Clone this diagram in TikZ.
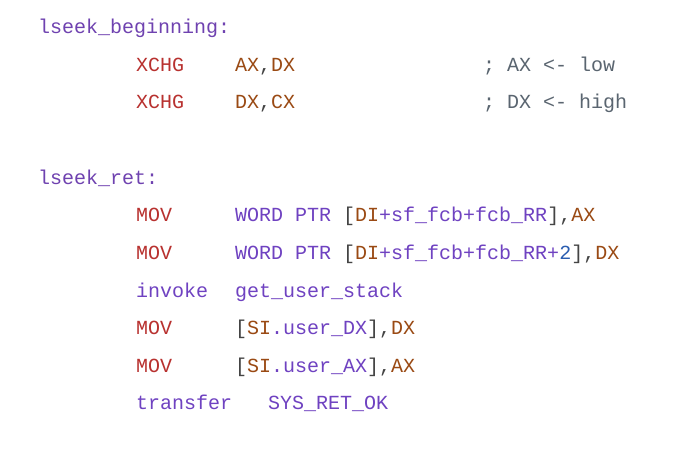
\documentclass[tikz,border=0pt]{standalone}
\usepackage{fontspec}
\setmonofont{Liberation Mono}
\definecolor{lblpur}{HTML}{6F42B0}
\definecolor{oppur}{HTML}{6F42C1}
\definecolor{insred}{HTML}{B8312F}
\definecolor{regbrn}{HTML}{9A4A14}
\definecolor{pungray}{HTML}{444444}
\definecolor{cmtgray}{HTML}{5A6570}
\definecolor{numblue}{HTML}{2A5DB0}
\tikzset{
  code/.style={anchor=base west, inner sep=0pt, font=\ttfamily\fontsize{20}{24}\selectfont},
  lbl/.style={code, text=lblpur},
  ins/.style={code, text=insred},
  cmt/.style={code, text=cmtgray}
}
\newcommand{\rg}[1]{\textcolor{regbrn}{#1}}
\newcommand{\pu}[1]{\textcolor{oppur}{#1}}
\newcommand{\pn}[1]{\textcolor{pungray}{#1}}
\begin{document}
\begin{tikzpicture}[x=1pt,y=-1pt]
    \useasboundingbox[fill=white] (0,0) rectangle (700,465);
    % first label
    \node[lbl] (lbeg) at (38,34) {lseek\_beginning:};
    \node[ins] (x1) at (136,72) {XCHG};
    \node[code] (o1) at (235,72) {\rg{AX}\pn{,}\rg{DX}};
    \node[cmt] (c1) at (483,72) {; AX <- low};
    \node[ins] (x2) at (136,109) {XCHG};
    \node[code] (o2) at (235,109) {\rg{DX}\pn{,}\rg{CX}};
    \node[cmt] (c2) at (483,109) {; DX <- high};

    % second label
    \node[lbl] (lret) at (38,184) {lseek\_ret:};
    \node[ins] (m1) at (136,221) {MOV};
    \node[code] (p1) at (235,221) {\pu{WORD PTR }\pn{[}\rg{DI}\pu{+sf\_fcb+fcb\_RR}\pn{],}\rg{AX}};
    \node[ins] (m2) at (136,259) {MOV};
    \node[code] (p2) at (235,259) {\pu{WORD PTR }\pn{[}\rg{DI}\pu{+sf\_fcb+fcb\_RR+}\textcolor{numblue}{2}\pn{],}\rg{DX}};
    \node[code, text=oppur] (inv) at (136,297) {invoke};
    \node[code, text=oppur] (gus) at (235,297) {get\_user\_stack};
    \node[ins] (m3) at (136,334) {MOV};
    \node[code] (p3) at (235,334) {\pn{[}\rg{SI}\pu{.user\_DX}\pn{],}\rg{DX}};
    \node[ins] (m4) at (136,372) {MOV};
    \node[code] (p4) at (235,372) {\pn{[}\rg{SI}\pu{.user\_AX}\pn{],}\rg{AX}};
    \node[code, text=oppur] (tr) at (136,409) {transfer};
    \node[code, text=oppur] (sro) at (268,409) {SYS\_RET\_OK};
\end{tikzpicture}
\end{document}
